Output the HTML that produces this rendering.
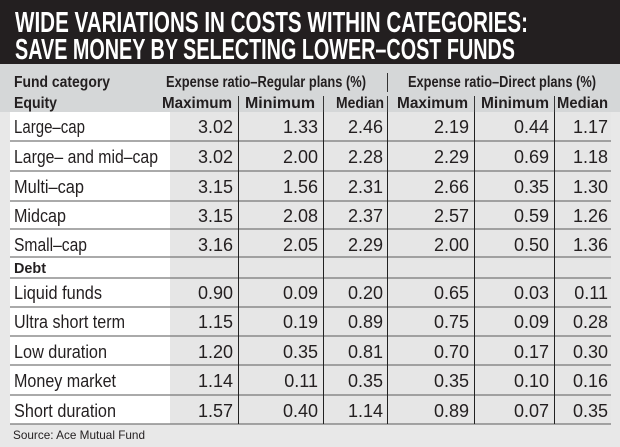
<!DOCTYPE html>
<html><head><meta charset="utf-8"><style>
html,body{margin:0;padding:0;background:#e8e8e8;}
svg{display:block;}
text{font-family:"Liberation Sans Narrow","Liberation Sans",sans-serif;}
</style></head><body>
<svg width="620" height="447" viewBox="0 0 620 447" xmlns="http://www.w3.org/2000/svg">
<rect x="0" y="0" width="620" height="447" fill="#e8e8e8"/>
<rect x="0" y="0" width="620" height="64" fill="#231f20"/>
<text x="15" y="32" font-size="29" font-weight="bold" fill="#fff" textLength="513" lengthAdjust="spacingAndGlyphs">WIDE VARIATIONS IN COSTS WITHIN CATEGORIES:</text>
<text x="15" y="59" font-size="29" font-weight="bold" fill="#fff" textLength="500" lengthAdjust="spacingAndGlyphs">SAVE MONEY BY SELECTING LOWER–COST FUNDS</text>
<rect x="0" y="64" width="620" height="48" fill="#d5d7d8"/>
<g font-size="16" font-weight="bold" fill="#231f20" lengthAdjust="spacingAndGlyphs">
<text x="14" y="87" textLength="96" lengthAdjust="spacingAndGlyphs">Fund category</text>
<text x="14" y="108" textLength="43" lengthAdjust="spacingAndGlyphs">Equity</text>
<text x="166" y="87" textLength="200" lengthAdjust="spacingAndGlyphs">Expense ratio–Regular plans (%)</text>
<text x="408" y="87" textLength="188" lengthAdjust="spacingAndGlyphs">Expense ratio–Direct plans (%)</text>
<text x="162" y="108" textLength="70" lengthAdjust="spacingAndGlyphs">Maximum</text>
<text x="245" y="108" textLength="70" lengthAdjust="spacingAndGlyphs">Minimum</text>
<text x="336" y="108" textLength="48" lengthAdjust="spacingAndGlyphs">Median</text>
<text x="397" y="108" textLength="71" lengthAdjust="spacingAndGlyphs">Maximum</text>
<text x="481" y="108" textLength="68" lengthAdjust="spacingAndGlyphs">Minimum</text>
<text x="557" y="108" textLength="51" lengthAdjust="spacingAndGlyphs">Median</text>
</g>
<g stroke="#333" stroke-width="1">
<line x1="387.5" y1="73" x2="387.5" y2="92"/>
<line x1="238.5" y1="96" x2="238.5" y2="112"/>
<line x1="323.5" y1="96" x2="323.5" y2="112"/>
<line x1="387.5" y1="96" x2="387.5" y2="112"/>
<line x1="474.5" y1="96" x2="474.5" y2="112"/>
<line x1="554.5" y1="96" x2="554.5" y2="112"/>
</g>
<rect x="10" y="112" width="160" height="312" fill="#fff"/>
<rect x="170" y="112" width="441" height="312" fill="#e6e6e6"/>
<g stroke="#777" stroke-width="1.3">
<line x1="10" y1="141" x2="611" y2="141"/>
<line x1="10" y1="171" x2="611" y2="171"/>
<line x1="10" y1="201" x2="611" y2="201"/>
<line x1="10" y1="229" x2="611" y2="229"/>
<line x1="10" y1="257" x2="611" y2="257"/>
<line x1="10" y1="278" x2="611" y2="278"/>
<line x1="10" y1="307" x2="611" y2="307"/>
<line x1="10" y1="336" x2="611" y2="336"/>
<line x1="10" y1="365" x2="611" y2="365"/>
<line x1="10" y1="395" x2="611" y2="395"/>
<line x1="10" y1="424" x2="611" y2="424"/>
</g>
<g stroke="#222" stroke-width="1">
<line x1="238.5" y1="112" x2="238.5" y2="424"/>
<line x1="323.5" y1="112" x2="323.5" y2="424"/>
<line x1="387.5" y1="112" x2="387.5" y2="424"/>
<line x1="474.5" y1="112" x2="474.5" y2="424"/>
<line x1="554.5" y1="112" x2="554.5" y2="424"/>
</g>
<g font-size="18" fill="#231f20">
<text x="14" y="133" textLength="71" lengthAdjust="spacingAndGlyphs">Large–cap</text>
<text x="14" y="163" textLength="144" lengthAdjust="spacingAndGlyphs">Large– and mid–cap</text>
<text x="14" y="193" textLength="70" lengthAdjust="spacingAndGlyphs">Multi–cap</text>
<text x="14" y="222" textLength="52" lengthAdjust="spacingAndGlyphs">Midcap</text>
<text x="14" y="251" textLength="73" lengthAdjust="spacingAndGlyphs">Small–cap</text>
<text x="14" y="273" font-size="15" font-weight="bold" textLength="32" lengthAdjust="spacingAndGlyphs">Debt</text>
<text x="14" y="299" textLength="88" lengthAdjust="spacingAndGlyphs">Liquid funds</text>
<text x="14" y="328" textLength="111" lengthAdjust="spacingAndGlyphs">Ultra short term</text>
<text x="14" y="358" textLength="93" lengthAdjust="spacingAndGlyphs">Low duration</text>
<text x="14" y="387" textLength="102" lengthAdjust="spacingAndGlyphs">Money market</text>
<text x="14" y="417" textLength="102" lengthAdjust="spacingAndGlyphs">Short duration</text>
</g>
<g font-size="18" fill="#231f20" text-anchor="end">
<g transform="translate(0,133)"><text x="233">3.02</text><text x="318">1.33</text><text x="383">2.46</text><text x="469">2.19</text><text x="549">0.44</text><text x="608">1.17</text></g>
<g transform="translate(0,163)"><text x="233">3.02</text><text x="318">2.00</text><text x="383">2.28</text><text x="469">2.29</text><text x="549">0.69</text><text x="608">1.18</text></g>
<g transform="translate(0,193)"><text x="233">3.15</text><text x="318">1.56</text><text x="383">2.31</text><text x="469">2.66</text><text x="549">0.35</text><text x="608">1.30</text></g>
<g transform="translate(0,222)"><text x="233">3.15</text><text x="318">2.08</text><text x="383">2.37</text><text x="469">2.57</text><text x="549">0.59</text><text x="608">1.26</text></g>
<g transform="translate(0,251)"><text x="233">3.16</text><text x="318">2.05</text><text x="383">2.29</text><text x="469">2.00</text><text x="549">0.50</text><text x="608">1.36</text></g>
<g transform="translate(0,299)"><text x="233">0.90</text><text x="318">0.09</text><text x="383">0.20</text><text x="469">0.65</text><text x="549">0.03</text><text x="608">0.11</text></g>
<g transform="translate(0,328)"><text x="233">1.15</text><text x="318">0.19</text><text x="383">0.89</text><text x="469">0.75</text><text x="549">0.09</text><text x="608">0.28</text></g>
<g transform="translate(0,358)"><text x="233">1.20</text><text x="318">0.35</text><text x="383">0.81</text><text x="469">0.70</text><text x="549">0.17</text><text x="608">0.30</text></g>
<g transform="translate(0,387)"><text x="233">1.14</text><text x="318">0.11</text><text x="383">0.35</text><text x="469">0.35</text><text x="549">0.10</text><text x="608">0.16</text></g>
<g transform="translate(0,417)"><text x="233">1.57</text><text x="318">0.40</text><text x="383">1.14</text><text x="469">0.89</text><text x="549">0.07</text><text x="608">0.35</text></g>
</g>
<text x="13" y="439" font-size="12" fill="#231f20" textLength="132" lengthAdjust="spacingAndGlyphs">Source: Ace Mutual Fund</text>
</svg>
</body></html>
